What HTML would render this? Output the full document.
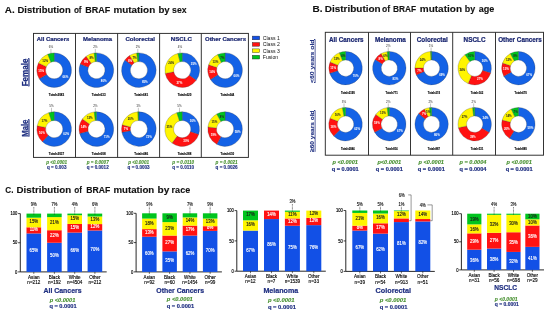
<!DOCTYPE html>
<html><head><meta charset="utf-8"><style>html,body{margin:0;padding:0;background:#fff;width:550px;height:314px;overflow:hidden}svg{display:block;will-change:transform}text{font-family:"Liberation Sans",sans-serif}</style></head>
<body><svg width="550" height="314" viewBox="0 0 550 314" font-family="Liberation Sans, sans-serif"><rect width="550" height="314" fill="#fff"/>
<text x="4.80" y="12.70" font-size="9.9" fill="#111" font-weight="bold" textLength="9.90" lengthAdjust="spacingAndGlyphs" stroke="#111" stroke-width="0.12">A.</text>
<text x="17.50" y="12.70" font-size="9.9" fill="#111" font-weight="bold" textLength="53.20" lengthAdjust="spacingAndGlyphs" stroke="#111" stroke-width="0.12">Distribution</text>
<text x="73.90" y="12.70" font-size="9.9" fill="#111" font-weight="bold" textLength="7.70" lengthAdjust="spacingAndGlyphs" stroke="#111" stroke-width="0.12">of</text>
<text x="85.30" y="12.70" font-size="9.9" fill="#111" font-weight="bold" textLength="24.90" lengthAdjust="spacingAndGlyphs" stroke="#111" stroke-width="0.12">BRAF</text>
<text x="113.40" y="12.70" font-size="9.9" fill="#111" font-weight="bold" textLength="41.80" lengthAdjust="spacingAndGlyphs" stroke="#111" stroke-width="0.12">mutation</text>
<text x="158.40" y="12.70" font-size="9.9" fill="#111" font-weight="bold" textLength="11.30" lengthAdjust="spacingAndGlyphs" stroke="#111" stroke-width="0.12">by</text>
<text x="172.10" y="12.70" font-size="9.9" fill="#111" font-weight="bold" textLength="14.50" lengthAdjust="spacingAndGlyphs" stroke="#111" stroke-width="0.12">sex</text>
<text x="312.50" y="11.60" font-size="9.9" fill="#111" font-weight="bold" textLength="10.00" lengthAdjust="spacingAndGlyphs" stroke="#111" stroke-width="0.12">B.</text>
<text x="324.80" y="11.60" font-size="9.9" fill="#111" font-weight="bold" textLength="55.90" lengthAdjust="spacingAndGlyphs" stroke="#111" stroke-width="0.12">Distribution</text>
<text x="382.10" y="11.60" font-size="9.9" fill="#111" font-weight="bold" textLength="8.10" lengthAdjust="spacingAndGlyphs" stroke="#111" stroke-width="0.12">of</text>
<text x="393.00" y="11.60" font-size="9.9" fill="#111" font-weight="bold" textLength="23.10" lengthAdjust="spacingAndGlyphs" stroke="#111" stroke-width="0.12">BRAF</text>
<text x="419.80" y="11.60" font-size="9.9" fill="#111" font-weight="bold" textLength="42.20" lengthAdjust="spacingAndGlyphs" stroke="#111" stroke-width="0.12">mutation</text>
<text x="464.80" y="11.60" font-size="9.9" fill="#111" font-weight="bold" textLength="10.40" lengthAdjust="spacingAndGlyphs" stroke="#111" stroke-width="0.12">by</text>
<text x="478.70" y="11.60" font-size="9.9" fill="#111" font-weight="bold" textLength="15.60" lengthAdjust="spacingAndGlyphs" stroke="#111" stroke-width="0.12">age</text>
<text x="5.30" y="193.10" font-size="9.9" fill="#111" font-weight="bold" textLength="8.10" lengthAdjust="spacingAndGlyphs" stroke="#111" stroke-width="0.12">C.</text>
<text x="16.60" y="193.10" font-size="9.9" fill="#111" font-weight="bold" textLength="54.50" lengthAdjust="spacingAndGlyphs" stroke="#111" stroke-width="0.12">Distribution</text>
<text x="74.30" y="193.10" font-size="9.9" fill="#111" font-weight="bold" textLength="7.70" lengthAdjust="spacingAndGlyphs" stroke="#111" stroke-width="0.12">of</text>
<text x="86.20" y="193.10" font-size="9.9" fill="#111" font-weight="bold" textLength="24.00" lengthAdjust="spacingAndGlyphs" stroke="#111" stroke-width="0.12">BRAF</text>
<text x="113.40" y="193.10" font-size="9.9" fill="#111" font-weight="bold" textLength="40.90" lengthAdjust="spacingAndGlyphs" stroke="#111" stroke-width="0.12">mutation</text>
<text x="157.50" y="193.10" font-size="9.9" fill="#111" font-weight="bold" textLength="11.80" lengthAdjust="spacingAndGlyphs" stroke="#111" stroke-width="0.12">by</text>
<text x="171.60" y="193.10" font-size="9.9" fill="#111" font-weight="bold" textLength="18.60" lengthAdjust="spacingAndGlyphs" stroke="#111" stroke-width="0.12">race</text>
<rect x="33.5" y="33.4" width="214.9" height="124.0" fill="none" stroke="#2a2a2a" stroke-width="0.95"/>
<line x1="75.5" y1="33.4" x2="75.5" y2="157.4" stroke="#2a2a2a" stroke-width="0.95"/>
<line x1="117.6" y1="33.4" x2="117.6" y2="157.4" stroke="#2a2a2a" stroke-width="0.95"/>
<line x1="159.6" y1="33.4" x2="159.6" y2="157.4" stroke="#2a2a2a" stroke-width="0.95"/>
<line x1="201.3" y1="33.4" x2="201.3" y2="157.4" stroke="#2a2a2a" stroke-width="0.95"/>
<text x="36.80" y="41.30" font-size="6.1" fill="#1a2670" font-weight="bold" textLength="32.40" lengthAdjust="spacingAndGlyphs" stroke="#1a2670" stroke-width="0.22">All Cancers</text>
<text x="83.10" y="41.30" font-size="6.1" fill="#1a2670" font-weight="bold" textLength="29.10" lengthAdjust="spacingAndGlyphs" stroke="#1a2670" stroke-width="0.22">Melanoma</text>
<text x="125.50" y="41.30" font-size="6.1" fill="#1a2670" font-weight="bold" textLength="29.40" lengthAdjust="spacingAndGlyphs" stroke="#1a2670" stroke-width="0.22">Colorectal</text>
<text x="170.80" y="41.30" font-size="6.1" fill="#1a2670" font-weight="bold" textLength="21.00" lengthAdjust="spacingAndGlyphs" stroke="#1a2670" stroke-width="0.22">NSCLC</text>
<text x="205.00" y="41.30" font-size="6.1" fill="#1a2670" font-weight="bold" textLength="41.00" lengthAdjust="spacingAndGlyphs" stroke="#1a2670" stroke-width="0.22">Other Cancers</text>
<rect x="325.3" y="32.3" width="218.2" height="122.89999999999999" fill="none" stroke="#2a2a2a" stroke-width="0.95"/>
<line x1="368.5" y1="32.3" x2="368.5" y2="155.2" stroke="#2a2a2a" stroke-width="0.95"/>
<line x1="410.5" y1="32.3" x2="410.5" y2="155.2" stroke="#2a2a2a" stroke-width="0.95"/>
<line x1="452.7" y1="32.3" x2="452.7" y2="155.2" stroke="#2a2a2a" stroke-width="0.95"/>
<line x1="495.5" y1="32.3" x2="495.5" y2="155.2" stroke="#2a2a2a" stroke-width="0.95"/>
<text x="329.10" y="41.80" font-size="6.3" fill="#1a2670" font-weight="bold" textLength="34.50" lengthAdjust="spacingAndGlyphs" stroke="#1a2670" stroke-width="0.22">All Cancers</text>
<text x="374.90" y="41.80" font-size="6.3" fill="#1a2670" font-weight="bold" textLength="30.90" lengthAdjust="spacingAndGlyphs" stroke="#1a2670" stroke-width="0.22">Melanoma</text>
<text x="416.70" y="41.80" font-size="6.3" fill="#1a2670" font-weight="bold" textLength="31.10" lengthAdjust="spacingAndGlyphs" stroke="#1a2670" stroke-width="0.22">Colorectal</text>
<text x="463.60" y="41.80" font-size="6.3" fill="#1a2670" font-weight="bold" textLength="21.90" lengthAdjust="spacingAndGlyphs" stroke="#1a2670" stroke-width="0.22">NSCLC</text>
<text x="498.20" y="41.80" font-size="6.3" fill="#1a2670" font-weight="bold" textLength="43.60" lengthAdjust="spacingAndGlyphs" stroke="#1a2670" stroke-width="0.22">Other Cancers</text>
<g transform="translate(27.5,72.5) rotate(-90)">
<text x="0.00" y="0.00" font-size="8.8" fill="#1f2f80" font-weight="bold" text-anchor="middle" textLength="27.70" lengthAdjust="spacingAndGlyphs" text-decoration="underline" stroke="#1f2f80" stroke-width="0.25">Female</text>
</g>
<g transform="translate(27.5,128.2) rotate(-90)">
<text x="0.00" y="0.00" font-size="8.8" fill="#1f2f80" font-weight="bold" text-anchor="middle" textLength="17.20" lengthAdjust="spacingAndGlyphs" text-decoration="underline" stroke="#1f2f80" stroke-width="0.25">Male</text>
</g>
<g transform="translate(313.8,61.2) rotate(-90)">
<text x="0.00" y="0.00" font-size="6" fill="#1f2f80" font-weight="bold" text-anchor="middle" textLength="43.50" lengthAdjust="spacingAndGlyphs" text-decoration="underline" stroke="#1f2f80" stroke-width="0.1">&lt;60 years old</text>
</g>
<g transform="translate(313.8,131.2) rotate(-90)">
<text x="0.00" y="0.00" font-size="6" fill="#1f2f80" font-weight="bold" text-anchor="middle" textLength="41.50" lengthAdjust="spacingAndGlyphs" text-decoration="underline" stroke="#1f2f80" stroke-width="0.1">≥60 years old</text>
</g>
<rect x="252.3" y="36.10" width="7.4" height="3.7" fill="#1250e6" stroke="#222" stroke-width="0.4"/>
<text x="262.80" y="39.70" font-size="5.1" fill="#111">Class 1</text>
<rect x="252.3" y="42.50" width="7.4" height="3.7" fill="#ff1212" stroke="#222" stroke-width="0.4"/>
<text x="262.80" y="46.10" font-size="5.1" fill="#111">Class 2</text>
<rect x="252.3" y="48.90" width="7.4" height="3.7" fill="#fff500" stroke="#222" stroke-width="0.4"/>
<text x="262.80" y="52.50" font-size="5.1" fill="#111">Class 3</text>
<rect x="252.3" y="55.30" width="7.4" height="3.7" fill="#00c41e" stroke="#222" stroke-width="0.4"/>
<text x="262.80" y="58.90" font-size="5.1" fill="#111">Fusion</text>
<path d="M54.20,52.90A17.3,17.3 0 1 1 39.22,78.85L46.75,74.50A8.6,8.6 0 1 0 54.20,61.60Z" fill="#1462e6" stroke="#333" stroke-width="0.25"/>
<path d="M39.22,78.85A17.3,17.3 0 0 1 38.46,63.01L46.38,66.63A8.6,8.6 0 0 0 46.75,74.50Z" fill="#ff1212" stroke="#333" stroke-width="0.25"/>
<path d="M38.46,63.01A17.3,17.3 0 0 1 47.77,54.14L51.00,62.22A8.6,8.6 0 0 0 46.38,66.63Z" fill="#fff500" stroke="#333" stroke-width="0.25"/>
<path d="M47.77,54.14A17.3,17.3 0 0 1 54.20,52.90L54.20,61.60A8.6,8.6 0 0 0 51.00,62.22Z" fill="#00c41e" stroke="#333" stroke-width="0.25"/>
<text x="65.42" y="77.67" font-size="2.9" fill="#fff" font-weight="bold" text-anchor="middle">66%</text>
<text x="41.26" y="71.82" font-size="2.9" fill="#fff" font-weight="bold" text-anchor="middle">15%</text>
<text x="45.26" y="61.83" font-size="2.9" fill="#222" font-weight="bold" text-anchor="middle">12%</text>
<line x1="50.93" y1="53.90" x2="50.93" y2="48.90" stroke="#555" stroke-width="0.35"/>
<text x="50.93" y="48.30" font-size="3.0" fill="#222" text-anchor="middle">6%</text>
<text x="56.50" y="96.10" font-size="3.0" fill="#000" font-weight="bold" text-anchor="middle" stroke="#000" stroke-width="0.1">Total=2083</text>
<path d="M96.40,52.90A17.3,17.3 0 1 1 80.24,64.03L88.37,67.13A8.6,8.6 0 1 0 96.40,61.60Z" fill="#1462e6" stroke="#333" stroke-width="0.25"/>
<path d="M80.24,64.03A17.3,17.3 0 0 1 86.14,56.27L91.30,63.27A8.6,8.6 0 0 0 88.37,67.13Z" fill="#ff1212" stroke="#333" stroke-width="0.25"/>
<path d="M86.14,56.27A17.3,17.3 0 0 1 94.21,53.04L95.31,61.67A8.6,8.6 0 0 0 91.30,63.27Z" fill="#fff500" stroke="#333" stroke-width="0.25"/>
<path d="M94.21,53.04A17.3,17.3 0 0 1 96.40,52.90L96.40,61.60A8.6,8.6 0 0 0 95.31,61.67Z" fill="#00c41e" stroke="#333" stroke-width="0.25"/>
<text x="103.74" y="81.87" font-size="2.9" fill="#fff" font-weight="bold" text-anchor="middle">80%</text>
<text x="86.09" y="63.36" font-size="2.9" fill="#fff" font-weight="bold" text-anchor="middle">9%</text>
<text x="91.59" y="59.18" font-size="2.9" fill="#222" font-weight="bold" text-anchor="middle">8%</text>
<line x1="95.30" y1="53.90" x2="95.30" y2="48.90" stroke="#555" stroke-width="0.35"/>
<text x="95.30" y="48.30" font-size="3.0" fill="#222" text-anchor="middle">2%</text>
<text x="98.70" y="96.10" font-size="3.0" fill="#000" font-weight="bold" text-anchor="middle" stroke="#000" stroke-width="0.1">Total=633</text>
<path d="M138.90,52.90A17.3,17.3 0 1 1 124.90,60.03L131.94,65.15A8.6,8.6 0 1 0 138.90,61.60Z" fill="#1462e6" stroke="#333" stroke-width="0.25"/>
<path d="M124.90,60.03A17.3,17.3 0 0 1 129.63,55.59L134.29,62.94A8.6,8.6 0 0 0 131.94,65.15Z" fill="#ff1212" stroke="#333" stroke-width="0.25"/>
<path d="M129.63,55.59A17.3,17.3 0 0 1 136.73,53.04L137.82,61.67A8.6,8.6 0 0 0 134.29,62.94Z" fill="#fff500" stroke="#333" stroke-width="0.25"/>
<path d="M136.73,53.04A17.3,17.3 0 0 1 138.90,52.90L138.90,61.60A8.6,8.6 0 0 0 137.82,61.67Z" fill="#00c41e" stroke="#333" stroke-width="0.25"/>
<text x="144.78" y="82.74" font-size="2.9" fill="#fff" font-weight="bold" text-anchor="middle">85%</text>
<text x="130.04" y="61.76" font-size="2.9" fill="#fff" font-weight="bold" text-anchor="middle">6%</text>
<text x="134.51" y="59.02" font-size="2.9" fill="#222" font-weight="bold" text-anchor="middle">7%</text>
<line x1="137.81" y1="53.90" x2="137.81" y2="48.90" stroke="#555" stroke-width="0.35"/>
<text x="137.81" y="48.30" font-size="3.0" fill="#222" text-anchor="middle">2%</text>
<text x="141.20" y="96.10" font-size="3.0" fill="#000" font-weight="bold" text-anchor="middle" stroke="#000" stroke-width="0.1">Total=681</text>
<path d="M182.20,52.90A17.3,17.3 0 0 1 196.20,80.37L189.16,75.25A8.6,8.6 0 0 0 182.20,61.60Z" fill="#1462e6" stroke="#333" stroke-width="0.25"/>
<path d="M196.20,80.37A17.3,17.3 0 0 1 165.21,73.44L173.75,71.81A8.6,8.6 0 0 0 189.16,75.25Z" fill="#ff1212" stroke="#333" stroke-width="0.25"/>
<path d="M165.21,73.44A17.3,17.3 0 0 1 177.90,53.44L180.06,61.87A8.6,8.6 0 0 0 173.75,71.81Z" fill="#fff500" stroke="#333" stroke-width="0.25"/>
<path d="M177.90,53.44A17.3,17.3 0 0 1 182.20,52.90L182.20,61.60A8.6,8.6 0 0 0 180.06,61.87Z" fill="#00c41e" stroke="#333" stroke-width="0.25"/>
<text x="193.74" y="65.32" font-size="2.9" fill="#fff" font-weight="bold" text-anchor="middle">35%</text>
<text x="179.38" y="83.84" font-size="2.9" fill="#fff" font-weight="bold" text-anchor="middle">37%</text>
<text x="171.27" y="64.26" font-size="2.9" fill="#222" font-weight="bold" text-anchor="middle">24%</text>
<line x1="180.03" y1="53.90" x2="180.03" y2="48.90" stroke="#555" stroke-width="0.35"/>
<text x="180.03" y="48.30" font-size="3.0" fill="#222" text-anchor="middle">4%</text>
<text x="184.50" y="96.10" font-size="3.0" fill="#000" font-weight="bold" text-anchor="middle" stroke="#000" stroke-width="0.1">Total=420</text>
<path d="M225.10,52.90A17.3,17.3 0 1 1 210.49,79.47L217.84,74.81A8.6,8.6 0 1 0 225.10,61.60Z" fill="#1462e6" stroke="#333" stroke-width="0.25"/>
<path d="M210.49,79.47A17.3,17.3 0 0 1 208.65,64.85L216.92,67.54A8.6,8.6 0 0 0 217.84,74.81Z" fill="#ff1212" stroke="#333" stroke-width="0.25"/>
<path d="M208.65,64.85A17.3,17.3 0 0 1 217.73,54.55L221.44,62.42A8.6,8.6 0 0 0 216.92,67.54Z" fill="#fff500" stroke="#333" stroke-width="0.25"/>
<path d="M217.73,54.55A17.3,17.3 0 0 1 225.10,52.90L225.10,61.60A8.6,8.6 0 0 0 221.44,62.42Z" fill="#00c41e" stroke="#333" stroke-width="0.25"/>
<text x="236.45" y="77.44" font-size="2.9" fill="#fff" font-weight="bold" text-anchor="middle">66%</text>
<text x="212.25" y="72.82" font-size="2.9" fill="#fff" font-weight="bold" text-anchor="middle">14%</text>
<text x="215.39" y="62.64" font-size="2.9" fill="#222" font-weight="bold" text-anchor="middle">13%</text>
<text x="222.28" y="58.56" font-size="2.9" fill="#222" font-weight="bold" text-anchor="middle">7%</text>
<text x="227.40" y="96.10" font-size="3.0" fill="#000" font-weight="bold" text-anchor="middle" stroke="#000" stroke-width="0.1">Total=444</text>
<path d="M54.20,111.80A17.3,17.3 0 1 1 42.36,141.71L48.31,135.37A8.6,8.6 0 1 0 54.20,120.50Z" fill="#1462e6" stroke="#333" stroke-width="0.25"/>
<path d="M42.36,141.71A17.3,17.3 0 0 1 37.21,125.86L45.75,127.49A8.6,8.6 0 0 0 48.31,135.37Z" fill="#ff1212" stroke="#333" stroke-width="0.25"/>
<path d="M37.21,125.86A17.3,17.3 0 0 1 48.85,112.65L51.54,120.92A8.6,8.6 0 0 0 45.75,127.49Z" fill="#fff500" stroke="#333" stroke-width="0.25"/>
<path d="M48.85,112.65A17.3,17.3 0 0 1 54.20,111.80L54.20,120.50A8.6,8.6 0 0 0 51.54,120.92Z" fill="#00c41e" stroke="#333" stroke-width="0.25"/>
<text x="66.24" y="134.87" font-size="2.9" fill="#fff" font-weight="bold" text-anchor="middle">62%</text>
<text x="41.88" y="134.10" font-size="2.9" fill="#fff" font-weight="bold" text-anchor="middle">16%</text>
<text x="44.49" y="121.54" font-size="2.9" fill="#222" font-weight="bold" text-anchor="middle">17%</text>
<line x1="51.49" y1="112.80" x2="51.49" y2="107.80" stroke="#555" stroke-width="0.35"/>
<text x="51.49" y="107.20" font-size="3.0" fill="#222" text-anchor="middle">5%</text>
<text x="56.50" y="155.00" font-size="3.0" fill="#000" font-weight="bold" text-anchor="middle" stroke="#000" stroke-width="0.1">Total=2037</text>
<path d="M96.40,111.80A17.3,17.3 0 1 1 79.64,133.40L88.07,131.24A8.6,8.6 0 1 0 96.40,120.50Z" fill="#1462e6" stroke="#333" stroke-width="0.25"/>
<path d="M79.64,133.40A17.3,17.3 0 0 1 82.40,118.93L89.44,124.05A8.6,8.6 0 0 0 88.07,131.24Z" fill="#ff1212" stroke="#333" stroke-width="0.25"/>
<path d="M82.40,118.93A17.3,17.3 0 0 1 94.23,111.94L95.32,120.57A8.6,8.6 0 0 0 89.44,124.05Z" fill="#fff500" stroke="#333" stroke-width="0.25"/>
<path d="M94.23,111.94A17.3,17.3 0 0 1 96.40,111.80L96.40,120.50A8.6,8.6 0 0 0 95.32,120.57Z" fill="#00c41e" stroke="#333" stroke-width="0.25"/>
<text x="106.63" y="138.04" font-size="2.9" fill="#fff" font-weight="bold" text-anchor="middle">71%</text>
<text x="83.68" y="127.67" font-size="2.9" fill="#fff" font-weight="bold" text-anchor="middle">14%</text>
<text x="89.81" y="118.95" font-size="2.9" fill="#222" font-weight="bold" text-anchor="middle">13%</text>
<line x1="95.31" y1="112.80" x2="95.31" y2="107.80" stroke="#555" stroke-width="0.35"/>
<text x="95.31" y="107.20" font-size="3.0" fill="#222" text-anchor="middle">2%</text>
<text x="98.70" y="155.00" font-size="3.0" fill="#000" font-weight="bold" text-anchor="middle" stroke="#000" stroke-width="0.1">Total=608</text>
<path d="M138.90,111.80A17.3,17.3 0 1 1 121.91,132.34L130.45,130.71A8.6,8.6 0 1 0 138.90,120.50Z" fill="#1462e6" stroke="#333" stroke-width="0.25"/>
<path d="M121.91,132.34A17.3,17.3 0 0 1 122.14,124.80L130.57,126.96A8.6,8.6 0 0 0 130.45,130.71Z" fill="#ff1212" stroke="#333" stroke-width="0.25"/>
<path d="M122.14,124.80A17.3,17.3 0 0 1 137.81,111.83L138.36,120.52A8.6,8.6 0 0 0 130.57,126.96Z" fill="#fff500" stroke="#333" stroke-width="0.25"/>
<path d="M137.81,111.83A17.3,17.3 0 0 1 138.90,111.80L138.90,120.50A8.6,8.6 0 0 0 138.36,120.52Z" fill="#00c41e" stroke="#333" stroke-width="0.25"/>
<text x="148.88" y="138.35" font-size="2.9" fill="#fff" font-weight="bold" text-anchor="middle">72%</text>
<text x="125.96" y="129.69" font-size="2.9" fill="#fff" font-weight="bold" text-anchor="middle">7%</text>
<text x="130.65" y="120.12" font-size="2.9" fill="#222" font-weight="bold" text-anchor="middle">20%</text>
<line x1="138.36" y1="112.80" x2="138.36" y2="107.80" stroke="#555" stroke-width="0.35"/>
<text x="138.36" y="107.20" font-size="3.0" fill="#222" text-anchor="middle">1%</text>
<text x="141.20" y="155.00" font-size="3.0" fill="#000" font-weight="bold" text-anchor="middle" stroke="#000" stroke-width="0.1">Total=486</text>
<path d="M182.20,111.80A17.3,17.3 0 0 1 198.65,134.45L190.38,131.76A8.6,8.6 0 0 0 182.20,120.50Z" fill="#1462e6" stroke="#333" stroke-width="0.25"/>
<path d="M198.65,134.45A17.3,17.3 0 0 1 172.03,143.10L177.15,136.06A8.6,8.6 0 0 0 190.38,131.76Z" fill="#ff1212" stroke="#333" stroke-width="0.25"/>
<path d="M172.03,143.10A17.3,17.3 0 0 1 176.85,112.65L179.54,120.92A8.6,8.6 0 0 0 177.15,136.06Z" fill="#fff500" stroke="#333" stroke-width="0.25"/>
<path d="M176.85,112.65A17.3,17.3 0 0 1 182.20,111.80L182.20,120.50A8.6,8.6 0 0 0 179.54,120.92Z" fill="#00c41e" stroke="#333" stroke-width="0.25"/>
<text x="192.68" y="122.49" font-size="2.9" fill="#fff" font-weight="bold" text-anchor="middle">30%</text>
<text x="186.20" y="142.42" font-size="2.9" fill="#fff" font-weight="bold" text-anchor="middle">30%</text>
<text x="169.41" y="128.07" font-size="2.9" fill="#222" font-weight="bold" text-anchor="middle">35%</text>
<line x1="179.49" y1="112.80" x2="179.49" y2="107.80" stroke="#555" stroke-width="0.35"/>
<text x="179.49" y="107.20" font-size="3.0" fill="#222" text-anchor="middle">5%</text>
<text x="184.50" y="155.00" font-size="3.0" fill="#000" font-weight="bold" text-anchor="middle" stroke="#000" stroke-width="0.1">Total=288</text>
<path d="M225.10,111.80A17.3,17.3 0 1 1 216.77,144.26L220.96,136.64A8.6,8.6 0 1 0 225.10,120.50Z" fill="#1462e6" stroke="#333" stroke-width="0.25"/>
<path d="M216.77,144.26A17.3,17.3 0 0 1 207.94,126.93L216.57,128.02A8.6,8.6 0 0 0 220.96,136.64Z" fill="#ff1212" stroke="#333" stroke-width="0.25"/>
<path d="M207.94,126.93A17.3,17.3 0 0 1 216.77,113.94L220.96,121.56A8.6,8.6 0 0 0 216.57,128.02Z" fill="#fff500" stroke="#333" stroke-width="0.25"/>
<path d="M216.77,113.94A17.3,17.3 0 0 1 225.10,111.80L225.10,120.50A8.6,8.6 0 0 0 220.96,121.56Z" fill="#00c41e" stroke="#333" stroke-width="0.25"/>
<text x="237.64" y="133.32" font-size="2.9" fill="#fff" font-weight="bold" text-anchor="middle">58%</text>
<text x="213.56" y="135.98" font-size="2.9" fill="#fff" font-weight="bold" text-anchor="middle">19%</text>
<text x="214.39" y="122.82" font-size="2.9" fill="#222" font-weight="bold" text-anchor="middle">15%</text>
<text x="221.88" y="117.56" font-size="2.9" fill="#222" font-weight="bold" text-anchor="middle">8%</text>
<text x="227.40" y="155.00" font-size="3.0" fill="#000" font-weight="bold" text-anchor="middle" stroke="#000" stroke-width="0.1">Total=610</text>
<path d="M345.60,51.50A16.7,16.7 0 1 1 329.72,73.36L337.80,70.73A8.2,8.2 0 1 0 345.60,60.00Z" fill="#1462e6" stroke="#333" stroke-width="0.25"/>
<path d="M329.72,73.36A16.7,16.7 0 0 1 330.07,62.05L337.98,65.18A8.2,8.2 0 0 0 337.80,70.73Z" fill="#ff1212" stroke="#333" stroke-width="0.25"/>
<path d="M330.07,62.05A16.7,16.7 0 0 1 339.45,52.67L342.58,60.58A8.2,8.2 0 0 0 337.98,65.18Z" fill="#fff500" stroke="#333" stroke-width="0.25"/>
<path d="M339.45,52.67A16.7,16.7 0 0 1 345.60,51.50L345.60,60.00A8.2,8.2 0 0 0 342.58,60.58Z" fill="#00c41e" stroke="#333" stroke-width="0.25"/>
<text x="355.67" y="76.52" font-size="2.9" fill="#fff" font-weight="bold" text-anchor="middle">70%</text>
<text x="333.16" y="68.81" font-size="2.9" fill="#fff" font-weight="bold" text-anchor="middle">11%</text>
<text x="336.80" y="60.40" font-size="2.9" fill="#222" font-weight="bold" text-anchor="middle">13%</text>
<text x="343.27" y="56.97" font-size="2.9" fill="#222" font-weight="bold" text-anchor="middle">6%</text>
<text x="347.90" y="93.90" font-size="2.7" fill="#000" font-weight="bold" text-anchor="middle" stroke="#000" stroke-width="0.1">Total=2190</text>
<path d="M389.30,51.50A16.7,16.7 0 1 1 375.11,59.40L382.33,63.88A8.2,8.2 0 1 0 389.30,60.00Z" fill="#1462e6" stroke="#333" stroke-width="0.25"/>
<path d="M375.11,59.40A16.7,16.7 0 0 1 381.18,53.61L385.31,61.03A8.2,8.2 0 0 0 382.33,63.88Z" fill="#ff1212" stroke="#333" stroke-width="0.25"/>
<path d="M381.18,53.61A16.7,16.7 0 0 1 387.19,51.63L388.26,60.07A8.2,8.2 0 0 0 385.31,61.03Z" fill="#fff500" stroke="#333" stroke-width="0.25"/>
<path d="M387.19,51.63A16.7,16.7 0 0 1 389.30,51.50L389.30,60.00A8.2,8.2 0 0 0 388.26,60.07Z" fill="#00c41e" stroke="#333" stroke-width="0.25"/>
<text x="395.35" y="80.08" font-size="2.9" fill="#fff" font-weight="bold" text-anchor="middle">83%</text>
<text x="380.71" y="60.19" font-size="2.9" fill="#fff" font-weight="bold" text-anchor="middle">8%</text>
<text x="385.42" y="57.37" font-size="2.9" fill="#222" font-weight="bold" text-anchor="middle">6%</text>
<line x1="388.24" y1="52.50" x2="388.24" y2="47.50" stroke="#555" stroke-width="0.35"/>
<text x="388.24" y="46.90" font-size="3.0" fill="#222" text-anchor="middle">2%</text>
<text x="391.60" y="93.90" font-size="2.7" fill="#000" font-weight="bold" text-anchor="middle" stroke="#000" stroke-width="0.1">Total=771</text>
<path d="M431.60,51.50A16.7,16.7 0 1 1 416.35,75.01L424.11,71.54A8.2,8.2 0 1 0 431.60,60.00Z" fill="#1462e6" stroke="#333" stroke-width="0.25"/>
<path d="M416.35,75.01A16.7,16.7 0 0 1 414.90,67.94L423.40,68.07A8.2,8.2 0 0 0 424.11,71.54Z" fill="#ff1212" stroke="#333" stroke-width="0.25"/>
<path d="M414.90,67.94A16.7,16.7 0 0 1 430.56,51.53L431.09,60.02A8.2,8.2 0 0 0 423.40,68.07Z" fill="#fff500" stroke="#333" stroke-width="0.25"/>
<path d="M430.56,51.53A16.7,16.7 0 0 1 431.60,51.50L431.60,60.00A8.2,8.2 0 0 0 431.09,60.02Z" fill="#00c41e" stroke="#333" stroke-width="0.25"/>
<text x="442.04" y="75.98" font-size="2.9" fill="#fff" font-weight="bold" text-anchor="middle">69%</text>
<text x="419.40" y="71.70" font-size="2.9" fill="#fff" font-weight="bold" text-anchor="middle">7%</text>
<text x="422.59" y="60.60" font-size="2.9" fill="#222" font-weight="bold" text-anchor="middle">24%</text>
<line x1="431.08" y1="52.50" x2="431.08" y2="47.50" stroke="#555" stroke-width="0.35"/>
<text x="431.08" y="46.90" font-size="3.0" fill="#222" text-anchor="middle">1%</text>
<text x="433.90" y="93.90" font-size="2.7" fill="#000" font-weight="bold" text-anchor="middle" stroke="#000" stroke-width="0.1">Total=274</text>
<path d="M474.70,51.50A16.7,16.7 0 0 1 490.68,73.06L482.54,70.59A8.2,8.2 0 0 0 474.70,60.00Z" fill="#1462e6" stroke="#333" stroke-width="0.25"/>
<path d="M490.68,73.06A16.7,16.7 0 0 1 468.13,83.55L471.47,75.74A8.2,8.2 0 0 0 482.54,70.59Z" fill="#ff1212" stroke="#333" stroke-width="0.25"/>
<path d="M468.13,83.55A16.7,16.7 0 0 1 464.97,54.63L469.92,61.54A8.2,8.2 0 0 0 471.47,75.74Z" fill="#fff500" stroke="#333" stroke-width="0.25"/>
<path d="M464.97,54.63A16.7,16.7 0 0 1 474.70,51.50L474.70,60.00A8.2,8.2 0 0 0 469.92,61.54Z" fill="#00c41e" stroke="#333" stroke-width="0.25"/>
<text x="484.70" y="61.79" font-size="2.9" fill="#fff" font-weight="bold" text-anchor="middle">30%</text>
<text x="479.95" y="80.49" font-size="2.9" fill="#fff" font-weight="bold" text-anchor="middle">27%</text>
<text x="462.32" y="70.55" font-size="2.9" fill="#222" font-weight="bold" text-anchor="middle">34%</text>
<text x="470.89" y="57.35" font-size="2.9" fill="#222" font-weight="bold" text-anchor="middle">10%</text>
<text x="477.00" y="93.90" font-size="2.7" fill="#000" font-weight="bold" text-anchor="middle" stroke="#000" stroke-width="0.1">Total=162</text>
<path d="M518.40,51.50A16.7,16.7 0 1 1 503.77,76.25L511.21,72.15A8.2,8.2 0 1 0 518.40,60.00Z" fill="#1462e6" stroke="#333" stroke-width="0.25"/>
<path d="M503.77,76.25A16.7,16.7 0 0 1 502.52,63.04L510.60,65.67A8.2,8.2 0 0 0 511.21,72.15Z" fill="#ff1212" stroke="#333" stroke-width="0.25"/>
<path d="M502.52,63.04A16.7,16.7 0 0 1 510.35,53.57L514.45,61.01A8.2,8.2 0 0 0 510.60,65.67Z" fill="#fff500" stroke="#333" stroke-width="0.25"/>
<path d="M510.35,53.57A16.7,16.7 0 0 1 518.40,51.50L518.40,60.00A8.2,8.2 0 0 0 514.45,61.01Z" fill="#00c41e" stroke="#333" stroke-width="0.25"/>
<text x="529.12" y="75.54" font-size="2.9" fill="#fff" font-weight="bold" text-anchor="middle">67%</text>
<text x="506.01" y="70.37" font-size="2.9" fill="#fff" font-weight="bold" text-anchor="middle">13%</text>
<text x="508.81" y="61.26" font-size="2.9" fill="#222" font-weight="bold" text-anchor="middle">12%</text>
<text x="515.30" y="57.14" font-size="2.9" fill="#222" font-weight="bold" text-anchor="middle">8%</text>
<text x="520.70" y="93.90" font-size="2.7" fill="#000" font-weight="bold" text-anchor="middle" stroke="#000" stroke-width="0.1">Total=670</text>
<path d="M345.60,107.50A16.7,16.7 0 1 1 333.70,135.91L339.76,129.95A8.2,8.2 0 1 0 345.60,116.00Z" fill="#1462e6" stroke="#333" stroke-width="0.25"/>
<path d="M333.70,135.91A16.7,16.7 0 0 1 330.00,118.24L337.94,121.27A8.2,8.2 0 0 0 339.76,129.95Z" fill="#ff1212" stroke="#333" stroke-width="0.25"/>
<path d="M330.00,118.24A16.7,16.7 0 0 1 342.44,107.80L344.05,116.15A8.2,8.2 0 0 0 337.94,121.27Z" fill="#fff500" stroke="#333" stroke-width="0.25"/>
<path d="M342.44,107.80A16.7,16.7 0 0 1 345.60,107.50L345.60,116.00A8.2,8.2 0 0 0 344.05,116.15Z" fill="#00c41e" stroke="#333" stroke-width="0.25"/>
<text x="357.08" y="130.01" font-size="2.9" fill="#fff" font-weight="bold" text-anchor="middle">62%</text>
<text x="333.41" y="127.75" font-size="2.9" fill="#fff" font-weight="bold" text-anchor="middle">18%</text>
<text x="337.60" y="115.66" font-size="2.9" fill="#222" font-weight="bold" text-anchor="middle">16%</text>
<line x1="344.01" y1="108.50" x2="344.01" y2="103.50" stroke="#555" stroke-width="0.35"/>
<text x="344.01" y="102.90" font-size="3.0" fill="#222" text-anchor="middle">3%</text>
<text x="347.90" y="149.90" font-size="2.7" fill="#000" font-weight="bold" text-anchor="middle" stroke="#000" stroke-width="0.1">Total=2846</text>
<path d="M389.30,107.50A16.7,16.7 0 1 1 374.67,132.25L382.11,128.15A8.2,8.2 0 1 0 389.30,116.00Z" fill="#1462e6" stroke="#333" stroke-width="0.25"/>
<path d="M374.67,132.25A16.7,16.7 0 0 1 375.79,114.38L382.67,119.38A8.2,8.2 0 0 0 382.11,128.15Z" fill="#ff1212" stroke="#333" stroke-width="0.25"/>
<path d="M375.79,114.38A16.7,16.7 0 0 1 387.21,107.63L388.27,116.06A8.2,8.2 0 0 0 382.67,119.38Z" fill="#fff500" stroke="#333" stroke-width="0.25"/>
<path d="M387.21,107.63A16.7,16.7 0 0 1 389.30,107.50L389.30,116.00A8.2,8.2 0 0 0 388.27,116.06Z" fill="#00c41e" stroke="#333" stroke-width="0.25"/>
<text x="400.02" y="131.54" font-size="2.9" fill="#fff" font-weight="bold" text-anchor="middle">67%</text>
<text x="376.87" y="124.42" font-size="2.9" fill="#fff" font-weight="bold" text-anchor="middle">18%</text>
<text x="382.96" y="114.48" font-size="2.9" fill="#222" font-weight="bold" text-anchor="middle">13%</text>
<line x1="388.25" y1="108.50" x2="388.25" y2="103.50" stroke="#555" stroke-width="0.35"/>
<text x="388.25" y="102.90" font-size="3.0" fill="#222" text-anchor="middle">2%</text>
<text x="391.60" y="149.90" font-size="2.7" fill="#000" font-weight="bold" text-anchor="middle" stroke="#000" stroke-width="0.1">Total=816</text>
<path d="M431.60,107.50A16.7,16.7 0 1 1 418.73,113.56L425.28,118.97A8.2,8.2 0 1 0 431.60,116.00Z" fill="#1462e6" stroke="#333" stroke-width="0.25"/>
<path d="M418.73,113.56A16.7,16.7 0 0 1 424.49,109.09L428.11,116.78A8.2,8.2 0 0 0 425.28,118.97Z" fill="#ff1212" stroke="#333" stroke-width="0.25"/>
<path d="M424.49,109.09A16.7,16.7 0 0 1 429.51,107.63L430.57,116.06A8.2,8.2 0 0 0 428.11,116.78Z" fill="#fff500" stroke="#333" stroke-width="0.25"/>
<path d="M429.51,107.63A16.7,16.7 0 0 1 431.60,107.50L431.60,116.00A8.2,8.2 0 0 0 430.57,116.06Z" fill="#00c41e" stroke="#333" stroke-width="0.25"/>
<text x="436.90" y="136.47" font-size="2.9" fill="#fff" font-weight="bold" text-anchor="middle">86%</text>
<text x="423.97" y="115.36" font-size="2.9" fill="#fff" font-weight="bold" text-anchor="middle">7%</text>
<text x="428.13" y="113.24" font-size="2.9" fill="#222" font-weight="bold" text-anchor="middle">5%</text>
<line x1="430.55" y1="108.50" x2="430.55" y2="103.50" stroke="#555" stroke-width="0.35"/>
<text x="430.55" y="102.90" font-size="3.0" fill="#222" text-anchor="middle">2%</text>
<text x="433.90" y="149.90" font-size="2.7" fill="#000" font-weight="bold" text-anchor="middle" stroke="#000" stroke-width="0.1">Total=887</text>
<path d="M474.70,107.50A16.7,16.7 0 0 1 489.16,132.55L481.80,128.30A8.2,8.2 0 0 0 474.70,116.00Z" fill="#1462e6" stroke="#333" stroke-width="0.25"/>
<path d="M489.16,132.55A16.7,16.7 0 0 1 458.39,127.77L466.69,125.95A8.2,8.2 0 0 0 481.80,128.30Z" fill="#ff1212" stroke="#333" stroke-width="0.25"/>
<path d="M458.39,127.77A16.7,16.7 0 0 1 472.65,107.63L473.69,116.06A8.2,8.2 0 0 0 466.69,125.95Z" fill="#fff500" stroke="#333" stroke-width="0.25"/>
<path d="M472.65,107.63A16.7,16.7 0 0 1 474.70,107.50L474.70,116.00A8.2,8.2 0 0 0 473.69,116.06Z" fill="#00c41e" stroke="#333" stroke-width="0.25"/>
<text x="485.48" y="118.98" font-size="2.9" fill="#fff" font-weight="bold" text-anchor="middle">34%</text>
<text x="472.79" y="137.50" font-size="2.9" fill="#fff" font-weight="bold" text-anchor="middle">39%</text>
<text x="464.54" y="118.01" font-size="2.9" fill="#222" font-weight="bold" text-anchor="middle">27%</text>
<line x1="473.67" y1="108.50" x2="473.67" y2="103.50" stroke="#555" stroke-width="0.35"/>
<text x="473.67" y="102.90" font-size="3.0" fill="#222" text-anchor="middle">2%</text>
<text x="477.00" y="149.90" font-size="2.7" fill="#000" font-weight="bold" text-anchor="middle" stroke="#000" stroke-width="0.1">Total=531</text>
<path d="M518.40,107.50A16.7,16.7 0 1 1 509.45,138.30L514.01,131.12A8.2,8.2 0 1 0 518.40,116.00Z" fill="#1462e6" stroke="#333" stroke-width="0.25"/>
<path d="M509.45,138.30A16.7,16.7 0 0 1 502.22,120.05L510.46,122.16A8.2,8.2 0 0 0 514.01,131.12Z" fill="#ff1212" stroke="#333" stroke-width="0.25"/>
<path d="M502.22,120.05A16.7,16.7 0 0 1 511.29,109.09L514.91,116.78A8.2,8.2 0 0 0 510.46,122.16Z" fill="#fff500" stroke="#333" stroke-width="0.25"/>
<path d="M511.29,109.09A16.7,16.7 0 0 1 518.40,107.50L518.40,116.00A8.2,8.2 0 0 0 514.91,116.78Z" fill="#00c41e" stroke="#333" stroke-width="0.25"/>
<text x="530.36" y="128.67" font-size="2.9" fill="#fff" font-weight="bold" text-anchor="middle">59%</text>
<text x="506.82" y="129.78" font-size="2.9" fill="#fff" font-weight="bold" text-anchor="middle">20%</text>
<text x="508.81" y="117.26" font-size="2.9" fill="#222" font-weight="bold" text-anchor="middle">14%</text>
<text x="515.68" y="113.05" font-size="2.9" fill="#222" font-weight="bold" text-anchor="middle">7%</text>
<text x="520.70" y="149.90" font-size="2.7" fill="#000" font-weight="bold" text-anchor="middle" stroke="#000" stroke-width="0.1">Total=880</text>
<text x="56.70" y="164.40" font-size="4.6" fill="#46902f" font-weight="bold" text-anchor="middle" font-style="italic" stroke="#46902f" stroke-width="0.1">p &lt;0.0001</text>
<text x="56.70" y="169.20" font-size="4.6" fill="#1f2f80" font-weight="bold" text-anchor="middle" stroke="#1f2f80" stroke-width="0.12">q = 0.003</text>
<text x="97.70" y="164.40" font-size="4.6" fill="#46902f" font-weight="bold" text-anchor="middle" font-style="italic" stroke="#46902f" stroke-width="0.1">p = 0.0007</text>
<text x="97.70" y="169.20" font-size="4.6" fill="#1f2f80" font-weight="bold" text-anchor="middle" stroke="#1f2f80" stroke-width="0.12">q = 0.0012</text>
<text x="138.60" y="164.40" font-size="4.6" fill="#46902f" font-weight="bold" text-anchor="middle" font-style="italic" stroke="#46902f" stroke-width="0.1">p &lt;0.0001</text>
<text x="138.60" y="169.20" font-size="4.6" fill="#1f2f80" font-weight="bold" text-anchor="middle" stroke="#1f2f80" stroke-width="0.12">q = 0.0003</text>
<text x="183.20" y="164.40" font-size="4.6" fill="#46902f" font-weight="bold" text-anchor="middle" font-style="italic" stroke="#46902f" stroke-width="0.1">p = 0.0110</text>
<text x="183.20" y="169.20" font-size="4.6" fill="#1f2f80" font-weight="bold" text-anchor="middle" stroke="#1f2f80" stroke-width="0.12">q = 0.0110</text>
<text x="226.60" y="164.40" font-size="4.6" fill="#46902f" font-weight="bold" text-anchor="middle" font-style="italic" stroke="#46902f" stroke-width="0.1">p = 0.0021</text>
<text x="226.60" y="169.20" font-size="4.6" fill="#1f2f80" font-weight="bold" text-anchor="middle" stroke="#1f2f80" stroke-width="0.12">q = 0.0026</text>
<text x="345.20" y="164.20" font-size="5.6" fill="#46902f" font-weight="bold" text-anchor="middle" font-style="italic" stroke="#46902f" stroke-width="0.12">p &lt;0.0001</text>
<text x="345.20" y="170.60" font-size="5.6" fill="#1f2f80" font-weight="bold" text-anchor="middle" stroke="#1f2f80" stroke-width="0.18">q = 0.0001</text>
<text x="389.30" y="164.20" font-size="5.6" fill="#46902f" font-weight="bold" text-anchor="middle" font-style="italic" stroke="#46902f" stroke-width="0.12">p&lt;0.0001</text>
<text x="389.30" y="170.60" font-size="5.6" fill="#1f2f80" font-weight="bold" text-anchor="middle" stroke="#1f2f80" stroke-width="0.18">q = 0.0001</text>
<text x="431.30" y="164.20" font-size="5.6" fill="#46902f" font-weight="bold" text-anchor="middle" font-style="italic" stroke="#46902f" stroke-width="0.12">p &lt;0.0001</text>
<text x="431.30" y="170.60" font-size="5.6" fill="#1f2f80" font-weight="bold" text-anchor="middle" stroke="#1f2f80" stroke-width="0.18">q = 0.0001</text>
<text x="473.00" y="164.20" font-size="5.6" fill="#46902f" font-weight="bold" text-anchor="middle" font-style="italic" stroke="#46902f" stroke-width="0.12">p = 0.0004</text>
<text x="473.00" y="170.60" font-size="5.6" fill="#1f2f80" font-weight="bold" text-anchor="middle" stroke="#1f2f80" stroke-width="0.18">q = 0.0004</text>
<text x="519.10" y="164.20" font-size="5.6" fill="#46902f" font-weight="bold" text-anchor="middle" font-style="italic" stroke="#46902f" stroke-width="0.12">p &lt;0.0001</text>
<text x="519.10" y="170.60" font-size="5.6" fill="#1f2f80" font-weight="bold" text-anchor="middle" stroke="#1f2f80" stroke-width="0.18">q = 0.0001</text>
<line x1="20.3" y1="213.6" x2="20.3" y2="271.9" stroke="#111" stroke-width="0.9"/>
<line x1="20.3" y1="271.9" x2="106.69999999999999" y2="271.9" stroke="#111" stroke-width="0.9"/>
<line x1="18.1" y1="213.60" x2="20.3" y2="213.60" stroke="#111" stroke-width="0.8"/>
<text transform="translate(17.40,215.20) scale(0.9,1)" font-size="4.6" fill="#000" text-anchor="end" stroke="#000" stroke-width="0.15">100</text>
<line x1="18.1" y1="242.75" x2="20.3" y2="242.75" stroke="#111" stroke-width="0.8"/>
<text transform="translate(17.40,244.35) scale(0.9,1)" font-size="4.6" fill="#000" text-anchor="end" stroke="#000" stroke-width="0.15">50</text>
<line x1="18.1" y1="271.90" x2="20.3" y2="271.90" stroke="#111" stroke-width="0.8"/>
<text transform="translate(17.40,273.50) scale(0.9,1)" font-size="4.6" fill="#000" text-anchor="end" stroke="#000" stroke-width="0.15">0</text>
<rect x="26.50" y="233.42" width="14.6" height="38.48" fill="#1250e6"/>
<text transform="translate(33.80,251.96) scale(0.86,1)" font-size="5.0" fill="#fff" text-anchor="middle" stroke="#fff" stroke-width="0.15">65%</text>
<rect x="26.50" y="227.30" width="14.6" height="6.12" fill="#ff1212"/>
<text transform="translate(33.80,231.16) scale(0.86,1)" font-size="5.0" fill="#fff" text-anchor="middle" stroke="#fff" stroke-width="0.15">11%</text>
<rect x="26.50" y="217.68" width="14.6" height="9.62" fill="#fff500"/>
<text transform="translate(33.80,223.29) scale(0.86,1)" font-size="5.0" fill="#1a1a1a" text-anchor="middle" stroke="#1a1a1a" stroke-width="0.15">15%</text>
<rect x="26.50" y="213.60" width="14.6" height="4.08" fill="#00c41e"/>
<line x1="33.80" y1="271.9" x2="33.80" y2="273.9" stroke="#111" stroke-width="0.6"/>
<text x="33.80" y="278.90" font-size="4.6" fill="#000" text-anchor="middle" stroke="#000" stroke-width="0.12">Asian</text>
<text x="33.80" y="284.00" font-size="4.6" fill="#000" text-anchor="middle" stroke="#000" stroke-width="0.12">n=212</text>
<text transform="translate(33.80,206.00) scale(0.9,1)" font-size="4.6" fill="#111" text-anchor="middle" stroke="#111" stroke-width="0.12">9%</text>
<line x1="33.80" y1="207.00" x2="33.80" y2="214.6" stroke="#222" stroke-width="0.6" stroke-dasharray="0.9,0.5"/>
<rect x="47.10" y="242.75" width="14.6" height="29.15" fill="#1250e6"/>
<text transform="translate(54.40,256.62) scale(0.86,1)" font-size="5.0" fill="#fff" text-anchor="middle" stroke="#fff" stroke-width="0.15">50%</text>
<rect x="47.10" y="230.22" width="14.6" height="12.53" fill="#ff1212"/>
<text transform="translate(54.40,237.28) scale(0.86,1)" font-size="5.0" fill="#fff" text-anchor="middle" stroke="#fff" stroke-width="0.15">22%</text>
<rect x="47.10" y="217.10" width="14.6" height="13.12" fill="#fff500"/>
<text transform="translate(54.40,224.46) scale(0.86,1)" font-size="5.0" fill="#1a1a1a" text-anchor="middle" stroke="#1a1a1a" stroke-width="0.15">21%</text>
<rect x="47.10" y="213.60" width="14.6" height="3.50" fill="#00c41e"/>
<line x1="54.40" y1="271.9" x2="54.40" y2="273.9" stroke="#111" stroke-width="0.6"/>
<text x="54.40" y="278.90" font-size="4.6" fill="#000" text-anchor="middle" stroke="#000" stroke-width="0.12">Black</text>
<text x="54.40" y="284.00" font-size="4.6" fill="#000" text-anchor="middle" stroke="#000" stroke-width="0.12">n=192</text>
<text transform="translate(54.40,206.00) scale(0.9,1)" font-size="4.6" fill="#111" text-anchor="middle" stroke="#111" stroke-width="0.12">7%</text>
<line x1="54.40" y1="207.00" x2="54.40" y2="214.6" stroke="#222" stroke-width="0.6" stroke-dasharray="0.9,0.5"/>
<rect x="67.40" y="232.55" width="14.6" height="39.35" fill="#1250e6"/>
<text transform="translate(74.70,251.52) scale(0.86,1)" font-size="5.0" fill="#fff" text-anchor="middle" stroke="#fff" stroke-width="0.15">66%</text>
<rect x="67.40" y="223.98" width="14.6" height="8.57" fill="#ff1212"/>
<text transform="translate(74.70,229.06) scale(0.86,1)" font-size="5.0" fill="#fff" text-anchor="middle" stroke="#fff" stroke-width="0.15">15%</text>
<rect x="67.40" y="215.23" width="14.6" height="8.74" fill="#fff500"/>
<text transform="translate(74.70,220.40) scale(0.86,1)" font-size="5.0" fill="#1a1a1a" text-anchor="middle" stroke="#1a1a1a" stroke-width="0.15">15%</text>
<rect x="67.40" y="213.60" width="14.6" height="1.63" fill="#00c41e"/>
<line x1="74.70" y1="271.9" x2="74.70" y2="273.9" stroke="#111" stroke-width="0.6"/>
<text x="74.70" y="278.90" font-size="4.6" fill="#000" text-anchor="middle" stroke="#000" stroke-width="0.12">White</text>
<text x="74.70" y="284.00" font-size="4.6" fill="#000" text-anchor="middle" stroke="#000" stroke-width="0.12">n=4504</text>
<text transform="translate(74.70,206.00) scale(0.9,1)" font-size="4.6" fill="#111" text-anchor="middle" stroke="#111" stroke-width="0.12">4%</text>
<line x1="74.70" y1="207.00" x2="74.70" y2="214.6" stroke="#222" stroke-width="0.6" stroke-dasharray="0.9,0.5"/>
<rect x="87.60" y="230.51" width="14.6" height="41.39" fill="#1250e6"/>
<text transform="translate(94.90,250.50) scale(0.86,1)" font-size="5.0" fill="#fff" text-anchor="middle" stroke="#fff" stroke-width="0.15">70%</text>
<rect x="87.60" y="224.09" width="14.6" height="6.41" fill="#ff1212"/>
<text transform="translate(94.90,228.10) scale(0.86,1)" font-size="5.0" fill="#fff" text-anchor="middle" stroke="#fff" stroke-width="0.15">12%</text>
<rect x="87.60" y="216.51" width="14.6" height="7.58" fill="#fff500"/>
<text transform="translate(94.90,221.10) scale(0.86,1)" font-size="5.0" fill="#1a1a1a" text-anchor="middle" stroke="#1a1a1a" stroke-width="0.15">13%</text>
<rect x="87.60" y="213.60" width="14.6" height="2.91" fill="#00c41e"/>
<line x1="94.90" y1="271.9" x2="94.90" y2="273.9" stroke="#111" stroke-width="0.6"/>
<text x="94.90" y="278.90" font-size="4.6" fill="#000" text-anchor="middle" stroke="#000" stroke-width="0.12">Other</text>
<text x="94.90" y="284.00" font-size="4.6" fill="#000" text-anchor="middle" stroke="#000" stroke-width="0.12">n=212</text>
<text transform="translate(94.90,206.00) scale(0.9,1)" font-size="4.6" fill="#111" text-anchor="middle" stroke="#111" stroke-width="0.12">6%</text>
<line x1="94.90" y1="207.00" x2="94.90" y2="214.6" stroke="#222" stroke-width="0.6" stroke-dasharray="0.9,0.5"/>
<text x="43.50" y="293.10" font-size="7.0" fill="#1f2f80" font-weight="bold" textLength="38.10" lengthAdjust="spacingAndGlyphs" stroke="#1f2f80" stroke-width="0.2">All Cancers</text>
<text x="49.70" y="301.50" font-size="5.6" fill="#46902f" font-weight="bold" font-style="italic" textLength="25.60" lengthAdjust="spacingAndGlyphs" stroke="#46902f" stroke-width="0.12">p &lt;0.0001</text>
<text x="49.40" y="308.00" font-size="5.6" fill="#1f2f80" font-weight="bold" textLength="27.30" lengthAdjust="spacingAndGlyphs" stroke="#1f2f80" stroke-width="0.15">q = 0.0001</text>
<line x1="136.1" y1="213.3" x2="136.1" y2="271.9" stroke="#111" stroke-width="0.9"/>
<line x1="136.1" y1="271.9" x2="221.9" y2="271.9" stroke="#111" stroke-width="0.9"/>
<line x1="133.9" y1="213.30" x2="136.1" y2="213.30" stroke="#111" stroke-width="0.8"/>
<text transform="translate(133.20,214.90) scale(0.9,1)" font-size="4.6" fill="#000" text-anchor="end" stroke="#000" stroke-width="0.15">100</text>
<line x1="133.9" y1="242.60" x2="136.1" y2="242.60" stroke="#111" stroke-width="0.8"/>
<text transform="translate(133.20,244.20) scale(0.9,1)" font-size="4.6" fill="#000" text-anchor="end" stroke="#000" stroke-width="0.15">50</text>
<line x1="133.9" y1="271.90" x2="136.1" y2="271.90" stroke="#111" stroke-width="0.8"/>
<text transform="translate(133.20,273.50) scale(0.9,1)" font-size="4.6" fill="#000" text-anchor="end" stroke="#000" stroke-width="0.15">0</text>
<rect x="142.10" y="236.74" width="14.5" height="35.16" fill="#1250e6"/>
<text transform="translate(149.35,255.12) scale(0.86,1)" font-size="5.0" fill="#fff" text-anchor="middle" stroke="#fff" stroke-width="0.15">60%</text>
<rect x="142.10" y="229.12" width="14.5" height="7.62" fill="#ff1212"/>
<text transform="translate(149.35,233.73) scale(0.86,1)" font-size="5.0" fill="#fff" text-anchor="middle" stroke="#fff" stroke-width="0.15">13%</text>
<rect x="142.10" y="218.57" width="14.5" height="10.55" fill="#fff500"/>
<text transform="translate(149.35,224.65) scale(0.86,1)" font-size="5.0" fill="#1a1a1a" text-anchor="middle" stroke="#1a1a1a" stroke-width="0.15">18%</text>
<rect x="142.10" y="213.30" width="14.5" height="5.27" fill="#00c41e"/>
<line x1="149.35" y1="271.9" x2="149.35" y2="273.9" stroke="#111" stroke-width="0.6"/>
<text x="149.35" y="278.90" font-size="4.6" fill="#000" text-anchor="middle" stroke="#000" stroke-width="0.12">Asian</text>
<text x="149.35" y="284.00" font-size="4.6" fill="#000" text-anchor="middle" stroke="#000" stroke-width="0.12">n=92</text>
<text transform="translate(149.35,205.70) scale(0.9,1)" font-size="4.6" fill="#111" text-anchor="middle" stroke="#111" stroke-width="0.12">9%</text>
<line x1="149.35" y1="206.70" x2="149.35" y2="214.3" stroke="#222" stroke-width="0.6" stroke-dasharray="0.9,0.5"/>
<rect x="162.40" y="251.39" width="14.5" height="20.51" fill="#1250e6"/>
<text transform="translate(169.65,262.44) scale(0.86,1)" font-size="5.0" fill="#fff" text-anchor="middle" stroke="#fff" stroke-width="0.15">35%</text>
<rect x="162.40" y="235.57" width="14.5" height="15.82" fill="#ff1212"/>
<text transform="translate(169.65,244.28) scale(0.86,1)" font-size="5.0" fill="#fff" text-anchor="middle" stroke="#fff" stroke-width="0.15">27%</text>
<rect x="162.40" y="222.09" width="14.5" height="13.48" fill="#fff500"/>
<text transform="translate(169.65,229.63) scale(0.86,1)" font-size="5.0" fill="#1a1a1a" text-anchor="middle" stroke="#1a1a1a" stroke-width="0.15">23%</text>
<rect x="162.40" y="213.30" width="14.5" height="8.79" fill="#00c41e"/>
<text transform="translate(169.65,218.50) scale(0.86,1)" font-size="5.0" fill="#1a1a1a" text-anchor="middle" stroke="#1a1a1a" stroke-width="0.15">9%</text>
<line x1="169.65" y1="271.9" x2="169.65" y2="273.9" stroke="#111" stroke-width="0.6"/>
<text x="169.65" y="278.90" font-size="4.6" fill="#000" text-anchor="middle" stroke="#000" stroke-width="0.12">Black</text>
<text x="169.65" y="284.00" font-size="4.6" fill="#000" text-anchor="middle" stroke="#000" stroke-width="0.12">n=60</text>
<rect x="182.70" y="235.57" width="14.5" height="36.33" fill="#1250e6"/>
<text transform="translate(189.95,254.53) scale(0.86,1)" font-size="5.0" fill="#fff" text-anchor="middle" stroke="#fff" stroke-width="0.15">62%</text>
<rect x="182.70" y="225.61" width="14.5" height="9.96" fill="#ff1212"/>
<text transform="translate(189.95,231.39) scale(0.86,1)" font-size="5.0" fill="#fff" text-anchor="middle" stroke="#fff" stroke-width="0.15">17%</text>
<rect x="182.70" y="217.40" width="14.5" height="8.20" fill="#fff500"/>
<text transform="translate(189.95,222.30) scale(0.86,1)" font-size="5.0" fill="#1a1a1a" text-anchor="middle" stroke="#1a1a1a" stroke-width="0.15">14%</text>
<rect x="182.70" y="213.30" width="14.5" height="4.10" fill="#00c41e"/>
<line x1="189.95" y1="271.9" x2="189.95" y2="273.9" stroke="#111" stroke-width="0.6"/>
<text x="189.95" y="278.90" font-size="4.6" fill="#000" text-anchor="middle" stroke="#000" stroke-width="0.12">White</text>
<text x="189.95" y="284.00" font-size="4.6" fill="#000" text-anchor="middle" stroke="#000" stroke-width="0.12">n=1454</text>
<text transform="translate(189.95,205.70) scale(0.9,1)" font-size="4.6" fill="#111" text-anchor="middle" stroke="#111" stroke-width="0.12">7%</text>
<line x1="189.95" y1="206.70" x2="189.95" y2="214.3" stroke="#222" stroke-width="0.6" stroke-dasharray="0.9,0.5"/>
<rect x="202.90" y="230.88" width="14.5" height="41.02" fill="#1250e6"/>
<text transform="translate(210.15,252.19) scale(0.86,1)" font-size="5.0" fill="#fff" text-anchor="middle" stroke="#fff" stroke-width="0.15">70%</text>
<rect x="202.90" y="226.19" width="14.5" height="4.69" fill="#ff1212"/>
<text transform="translate(210.15,229.34) scale(0.86,1)" font-size="5.0" fill="#fff" text-anchor="middle" stroke="#fff" stroke-width="0.15">8%</text>
<rect x="202.90" y="218.57" width="14.5" height="7.62" fill="#fff500"/>
<text transform="translate(210.15,223.18) scale(0.86,1)" font-size="5.0" fill="#1a1a1a" text-anchor="middle" stroke="#1a1a1a" stroke-width="0.15">13%</text>
<rect x="202.90" y="213.30" width="14.5" height="5.27" fill="#00c41e"/>
<line x1="210.15" y1="271.9" x2="210.15" y2="273.9" stroke="#111" stroke-width="0.6"/>
<text x="210.15" y="278.90" font-size="4.6" fill="#000" text-anchor="middle" stroke="#000" stroke-width="0.12">Other</text>
<text x="210.15" y="284.00" font-size="4.6" fill="#000" text-anchor="middle" stroke="#000" stroke-width="0.12">n=99</text>
<text transform="translate(210.15,205.70) scale(0.9,1)" font-size="4.6" fill="#111" text-anchor="middle" stroke="#111" stroke-width="0.12">9%</text>
<line x1="210.15" y1="206.70" x2="210.15" y2="214.3" stroke="#222" stroke-width="0.6" stroke-dasharray="0.9,0.5"/>
<text x="156.30" y="293.10" font-size="7.0" fill="#1f2f80" font-weight="bold" textLength="47.70" lengthAdjust="spacingAndGlyphs" stroke="#1f2f80" stroke-width="0.2">Other Cancers</text>
<text x="166.80" y="300.80" font-size="5.6" fill="#46902f" font-weight="bold" font-style="italic" textLength="26.00" lengthAdjust="spacingAndGlyphs" stroke="#46902f" stroke-width="0.12">p &lt;0.0001</text>
<text x="166.80" y="307.60" font-size="5.6" fill="#1f2f80" font-weight="bold" textLength="27.40" lengthAdjust="spacingAndGlyphs" stroke="#1f2f80" stroke-width="0.15">q = 0.0001</text>
<line x1="236.8" y1="210.6" x2="236.8" y2="271.2" stroke="#111" stroke-width="0.9"/>
<line x1="236.8" y1="271.2" x2="325.8" y2="271.2" stroke="#111" stroke-width="0.9"/>
<line x1="234.60000000000002" y1="210.60" x2="236.8" y2="210.60" stroke="#111" stroke-width="0.8"/>
<text transform="translate(233.90,212.20) scale(0.9,1)" font-size="4.6" fill="#000" text-anchor="end" stroke="#000" stroke-width="0.15">100</text>
<line x1="234.60000000000002" y1="240.90" x2="236.8" y2="240.90" stroke="#111" stroke-width="0.8"/>
<text transform="translate(233.90,242.50) scale(0.9,1)" font-size="4.6" fill="#000" text-anchor="end" stroke="#000" stroke-width="0.15">50</text>
<line x1="234.60000000000002" y1="271.20" x2="236.8" y2="271.20" stroke="#111" stroke-width="0.8"/>
<text transform="translate(233.90,272.80) scale(0.9,1)" font-size="4.6" fill="#000" text-anchor="end" stroke="#000" stroke-width="0.15">0</text>
<rect x="243.00" y="230.60" width="15" height="40.60" fill="#1250e6"/>
<text transform="translate(250.50,251.70) scale(0.86,1)" font-size="5.0" fill="#fff" text-anchor="middle" stroke="#fff" stroke-width="0.15">67%</text>
<rect x="243.00" y="220.30" width="15" height="10.30" fill="#fff500"/>
<text transform="translate(250.50,226.25) scale(0.86,1)" font-size="5.0" fill="#1a1a1a" text-anchor="middle" stroke="#1a1a1a" stroke-width="0.15">16%</text>
<rect x="243.00" y="210.60" width="15" height="9.70" fill="#00c41e"/>
<text transform="translate(250.50,216.25) scale(0.86,1)" font-size="5.0" fill="#1a1a1a" text-anchor="middle" stroke="#1a1a1a" stroke-width="0.15">17%</text>
<line x1="250.50" y1="271.2" x2="250.50" y2="273.2" stroke="#111" stroke-width="0.6"/>
<text x="250.50" y="278.20" font-size="4.6" fill="#000" text-anchor="middle" stroke="#000" stroke-width="0.12">Asian</text>
<text x="250.50" y="283.30" font-size="4.6" fill="#000" text-anchor="middle" stroke="#000" stroke-width="0.12">n=12</text>
<rect x="264.00" y="219.08" width="15" height="52.12" fill="#1250e6"/>
<text transform="translate(271.50,245.94) scale(0.86,1)" font-size="5.0" fill="#fff" text-anchor="middle" stroke="#fff" stroke-width="0.15">86%</text>
<rect x="264.00" y="210.60" width="15" height="8.48" fill="#ff1212"/>
<text transform="translate(271.50,215.64) scale(0.86,1)" font-size="5.0" fill="#fff" text-anchor="middle" stroke="#fff" stroke-width="0.15">14%</text>
<line x1="271.50" y1="271.2" x2="271.50" y2="273.2" stroke="#111" stroke-width="0.6"/>
<text x="271.50" y="278.20" font-size="4.6" fill="#000" text-anchor="middle" stroke="#000" stroke-width="0.12">Black</text>
<text x="271.50" y="283.30" font-size="4.6" fill="#000" text-anchor="middle" stroke="#000" stroke-width="0.12">n=7</text>
<rect x="284.90" y="225.75" width="15" height="45.45" fill="#1250e6"/>
<text transform="translate(292.40,249.28) scale(0.86,1)" font-size="5.0" fill="#fff" text-anchor="middle" stroke="#fff" stroke-width="0.15">75%</text>
<rect x="284.90" y="218.48" width="15" height="7.27" fill="#ff1212"/>
<text transform="translate(292.40,222.91) scale(0.86,1)" font-size="5.0" fill="#fff" text-anchor="middle" stroke="#fff" stroke-width="0.15">12%</text>
<rect x="284.90" y="211.81" width="15" height="6.67" fill="#fff500"/>
<text transform="translate(292.40,215.95) scale(0.86,1)" font-size="5.0" fill="#1a1a1a" text-anchor="middle" stroke="#1a1a1a" stroke-width="0.15">11%</text>
<rect x="284.90" y="210.60" width="15" height="1.21" fill="#00c41e"/>
<line x1="292.40" y1="271.2" x2="292.40" y2="273.2" stroke="#111" stroke-width="0.6"/>
<text x="292.40" y="278.20" font-size="4.6" fill="#000" text-anchor="middle" stroke="#000" stroke-width="0.12">White</text>
<text x="292.40" y="283.30" font-size="4.6" fill="#000" text-anchor="middle" stroke="#000" stroke-width="0.12">n=1539</text>
<text transform="translate(292.40,203.00) scale(0.9,1)" font-size="4.6" fill="#111" text-anchor="middle" stroke="#111" stroke-width="0.12">3%</text>
<line x1="292.40" y1="204.00" x2="292.40" y2="211.6" stroke="#222" stroke-width="0.6" stroke-dasharray="0.9,0.5"/>
<rect x="306.30" y="225.14" width="15" height="46.06" fill="#1250e6"/>
<text transform="translate(313.80,248.97) scale(0.86,1)" font-size="5.0" fill="#fff" text-anchor="middle" stroke="#fff" stroke-width="0.15">76%</text>
<rect x="306.30" y="217.87" width="15" height="7.27" fill="#ff1212"/>
<text transform="translate(313.80,222.31) scale(0.86,1)" font-size="5.0" fill="#fff" text-anchor="middle" stroke="#fff" stroke-width="0.15">12%</text>
<rect x="306.30" y="210.60" width="15" height="7.27" fill="#fff500"/>
<text transform="translate(313.80,215.04) scale(0.86,1)" font-size="5.0" fill="#1a1a1a" text-anchor="middle" stroke="#1a1a1a" stroke-width="0.15">12%</text>
<line x1="313.80" y1="271.2" x2="313.80" y2="273.2" stroke="#111" stroke-width="0.6"/>
<text x="313.80" y="278.20" font-size="4.6" fill="#000" text-anchor="middle" stroke="#000" stroke-width="0.12">Other</text>
<text x="313.80" y="283.30" font-size="4.6" fill="#000" text-anchor="middle" stroke="#000" stroke-width="0.12">n=33</text>
<text x="263.40" y="293.20" font-size="7.0" fill="#1f2f80" font-weight="bold" textLength="34.80" lengthAdjust="spacingAndGlyphs" stroke="#1f2f80" stroke-width="0.2">Melanoma</text>
<text x="267.90" y="301.60" font-size="5.6" fill="#46902f" font-weight="bold" font-style="italic" textLength="26.70" lengthAdjust="spacingAndGlyphs" stroke="#46902f" stroke-width="0.12">p &lt;0.0001</text>
<text x="267.90" y="308.60" font-size="5.6" fill="#1f2f80" font-weight="bold" textLength="28.10" lengthAdjust="spacingAndGlyphs" stroke="#1f2f80" stroke-width="0.15">q = 0.0001</text>
<line x1="345.8" y1="210.5" x2="345.8" y2="271.4" stroke="#111" stroke-width="0.9"/>
<line x1="345.8" y1="271.4" x2="434.8" y2="271.4" stroke="#111" stroke-width="0.9"/>
<line x1="343.6" y1="210.50" x2="345.8" y2="210.50" stroke="#111" stroke-width="0.8"/>
<text transform="translate(342.90,212.10) scale(0.9,1)" font-size="4.6" fill="#000" text-anchor="end" stroke="#000" stroke-width="0.15">100</text>
<line x1="343.6" y1="240.95" x2="345.8" y2="240.95" stroke="#111" stroke-width="0.8"/>
<text transform="translate(342.90,242.55) scale(0.9,1)" font-size="4.6" fill="#000" text-anchor="end" stroke="#000" stroke-width="0.15">50</text>
<line x1="343.6" y1="271.40" x2="345.8" y2="271.40" stroke="#111" stroke-width="0.8"/>
<text transform="translate(342.90,273.00) scale(0.9,1)" font-size="4.6" fill="#000" text-anchor="end" stroke="#000" stroke-width="0.15">0</text>
<rect x="352.30" y="230.60" width="15" height="40.80" fill="#1250e6"/>
<text transform="translate(359.80,249.00) scale(0.86,1)" font-size="5.0" fill="#fff" text-anchor="middle" stroke="#fff" stroke-width="0.15">67%</text>
<rect x="352.30" y="225.72" width="15" height="4.87" fill="#ff1212"/>
<text transform="translate(359.80,228.96) scale(0.86,1)" font-size="5.0" fill="#fff" text-anchor="middle" stroke="#fff" stroke-width="0.15">8%</text>
<rect x="352.30" y="212.94" width="15" height="12.79" fill="#fff500"/>
<text transform="translate(359.80,220.13) scale(0.86,1)" font-size="5.0" fill="#1a1a1a" text-anchor="middle" stroke="#1a1a1a" stroke-width="0.15">21%</text>
<rect x="352.30" y="210.50" width="15" height="2.44" fill="#00c41e"/>
<line x1="359.80" y1="271.4" x2="359.80" y2="273.4" stroke="#111" stroke-width="0.6"/>
<text x="359.80" y="278.40" font-size="4.6" fill="#000" text-anchor="middle" stroke="#000" stroke-width="0.12">Asian</text>
<text x="359.80" y="283.50" font-size="4.6" fill="#000" text-anchor="middle" stroke="#000" stroke-width="0.12">n=39</text>
<text transform="translate(359.80,205.80) scale(0.9,1)" font-size="4.6" fill="#111" text-anchor="middle" stroke="#111" stroke-width="0.12">5%</text>
<line x1="359.80" y1="206.80" x2="359.80" y2="211.5" stroke="#222" stroke-width="0.6" stroke-dasharray="0.9,0.5"/>
<rect x="373.00" y="233.64" width="15" height="37.76" fill="#1250e6"/>
<text transform="translate(380.50,250.52) scale(0.86,1)" font-size="5.0" fill="#fff" text-anchor="middle" stroke="#fff" stroke-width="0.15">62%</text>
<rect x="373.00" y="223.29" width="15" height="10.35" fill="#ff1212"/>
<text transform="translate(380.50,229.27) scale(0.86,1)" font-size="5.0" fill="#fff" text-anchor="middle" stroke="#fff" stroke-width="0.15">17%</text>
<rect x="373.00" y="213.54" width="15" height="9.74" fill="#fff500"/>
<text transform="translate(380.50,219.22) scale(0.86,1)" font-size="5.0" fill="#1a1a1a" text-anchor="middle" stroke="#1a1a1a" stroke-width="0.15">16%</text>
<rect x="373.00" y="210.50" width="15" height="3.04" fill="#00c41e"/>
<line x1="380.50" y1="271.4" x2="380.50" y2="273.4" stroke="#111" stroke-width="0.6"/>
<text x="380.50" y="278.40" font-size="4.6" fill="#000" text-anchor="middle" stroke="#000" stroke-width="0.12">Black</text>
<text x="380.50" y="283.50" font-size="4.6" fill="#000" text-anchor="middle" stroke="#000" stroke-width="0.12">n=54</text>
<text transform="translate(380.50,205.80) scale(0.9,1)" font-size="4.6" fill="#111" text-anchor="middle" stroke="#111" stroke-width="0.12">5%</text>
<line x1="380.50" y1="206.80" x2="380.50" y2="211.5" stroke="#222" stroke-width="0.6" stroke-dasharray="0.9,0.5"/>
<rect x="393.90" y="222.07" width="15" height="49.33" fill="#1250e6"/>
<text transform="translate(401.40,244.74) scale(0.86,1)" font-size="5.0" fill="#fff" text-anchor="middle" stroke="#fff" stroke-width="0.15">81%</text>
<rect x="393.90" y="218.42" width="15" height="3.65" fill="#ff1212"/>
<rect x="393.90" y="211.11" width="15" height="7.31" fill="#fff500"/>
<text transform="translate(401.40,215.56) scale(0.86,1)" font-size="5.0" fill="#1a1a1a" text-anchor="middle" stroke="#1a1a1a" stroke-width="0.15">12%</text>
<rect x="393.90" y="210.50" width="15" height="0.61" fill="#00c41e"/>
<line x1="401.40" y1="271.4" x2="401.40" y2="273.4" stroke="#111" stroke-width="0.6"/>
<text x="401.40" y="278.40" font-size="4.6" fill="#000" text-anchor="middle" stroke="#000" stroke-width="0.12">White</text>
<text x="401.40" y="283.50" font-size="4.6" fill="#000" text-anchor="middle" stroke="#000" stroke-width="0.12">n=913</text>
<text transform="translate(401.40,205.80) scale(0.9,1)" font-size="4.6" fill="#111" text-anchor="middle" stroke="#111" stroke-width="0.12">1%</text>
<line x1="401.40" y1="206.80" x2="401.40" y2="211.5" stroke="#222" stroke-width="0.6" stroke-dasharray="0.9,0.5"/>
<rect x="415.30" y="221.46" width="15" height="49.94" fill="#1250e6"/>
<text transform="translate(422.80,244.43) scale(0.86,1)" font-size="5.0" fill="#fff" text-anchor="middle" stroke="#fff" stroke-width="0.15">82%</text>
<rect x="415.30" y="219.03" width="15" height="2.44" fill="#ff1212"/>
<rect x="415.30" y="210.50" width="15" height="8.53" fill="#fff500"/>
<text transform="translate(422.80,215.56) scale(0.86,1)" font-size="5.0" fill="#1a1a1a" text-anchor="middle" stroke="#1a1a1a" stroke-width="0.15">14%</text>
<line x1="422.80" y1="271.4" x2="422.80" y2="273.4" stroke="#111" stroke-width="0.6"/>
<text x="422.80" y="278.40" font-size="4.6" fill="#000" text-anchor="middle" stroke="#000" stroke-width="0.12">Other</text>
<text x="422.80" y="283.50" font-size="4.6" fill="#000" text-anchor="middle" stroke="#000" stroke-width="0.12">n=51</text>
<text x="375.50" y="293.20" font-size="7.0" fill="#1f2f80" font-weight="bold" textLength="35.50" lengthAdjust="spacingAndGlyphs" stroke="#1f2f80" stroke-width="0.2">Colorectal</text>
<text x="379.70" y="301.60" font-size="5.6" fill="#46902f" font-weight="bold" font-style="italic" textLength="26.70" lengthAdjust="spacingAndGlyphs" stroke="#46902f" stroke-width="0.12">p &lt;0.0001</text>
<text x="379.70" y="308.60" font-size="5.6" fill="#1f2f80" font-weight="bold" textLength="27.70" lengthAdjust="spacingAndGlyphs" stroke="#1f2f80" stroke-width="0.15">q = 0.0001</text>
<line x1="461.4" y1="213.7" x2="461.4" y2="269.9" stroke="#111" stroke-width="0.9"/>
<line x1="461.4" y1="269.9" x2="544.0" y2="269.9" stroke="#111" stroke-width="0.9"/>
<line x1="459.2" y1="213.70" x2="461.4" y2="213.70" stroke="#111" stroke-width="0.8"/>
<text transform="translate(458.50,215.30) scale(0.9,1)" font-size="4.6" fill="#000" text-anchor="end" stroke="#000" stroke-width="0.15">100</text>
<line x1="459.2" y1="241.80" x2="461.4" y2="241.80" stroke="#111" stroke-width="0.8"/>
<text transform="translate(458.50,243.40) scale(0.9,1)" font-size="4.6" fill="#000" text-anchor="end" stroke="#000" stroke-width="0.15">50</text>
<line x1="459.2" y1="269.90" x2="461.4" y2="269.90" stroke="#111" stroke-width="0.8"/>
<text transform="translate(458.50,271.50) scale(0.9,1)" font-size="4.6" fill="#000" text-anchor="end" stroke="#000" stroke-width="0.15">0</text>
<rect x="467.20" y="249.67" width="14.2" height="20.23" fill="#1250e6"/>
<text transform="translate(474.30,261.58) scale(0.86,1)" font-size="5.0" fill="#fff" text-anchor="middle" stroke="#fff" stroke-width="0.15">36%</text>
<rect x="467.20" y="233.37" width="14.2" height="16.30" fill="#ff1212"/>
<text transform="translate(474.30,243.32) scale(0.86,1)" font-size="5.0" fill="#fff" text-anchor="middle" stroke="#fff" stroke-width="0.15">29%</text>
<rect x="467.20" y="224.38" width="14.2" height="8.99" fill="#fff500"/>
<text transform="translate(474.30,230.67) scale(0.86,1)" font-size="5.0" fill="#1a1a1a" text-anchor="middle" stroke="#1a1a1a" stroke-width="0.15">16%</text>
<rect x="467.20" y="213.70" width="14.2" height="10.68" fill="#00c41e"/>
<text transform="translate(474.30,220.84) scale(0.86,1)" font-size="5.0" fill="#1a1a1a" text-anchor="middle" stroke="#1a1a1a" stroke-width="0.15">19%</text>
<line x1="474.30" y1="269.9" x2="474.30" y2="271.9" stroke="#111" stroke-width="0.6"/>
<text x="474.30" y="276.90" font-size="4.6" fill="#000" text-anchor="middle" stroke="#000" stroke-width="0.12">Asian</text>
<text x="474.30" y="282.00" font-size="4.6" fill="#000" text-anchor="middle" stroke="#000" stroke-width="0.12">n=31</text>
<rect x="487.00" y="248.54" width="14.2" height="21.36" fill="#1250e6"/>
<text transform="translate(494.10,261.02) scale(0.86,1)" font-size="5.0" fill="#fff" text-anchor="middle" stroke="#fff" stroke-width="0.15">38%</text>
<rect x="487.00" y="232.81" width="14.2" height="15.74" fill="#ff1212"/>
<text transform="translate(494.10,242.48) scale(0.86,1)" font-size="5.0" fill="#fff" text-anchor="middle" stroke="#fff" stroke-width="0.15">27%</text>
<rect x="487.00" y="214.82" width="14.2" height="17.98" fill="#fff500"/>
<text transform="translate(494.10,225.62) scale(0.86,1)" font-size="5.0" fill="#1a1a1a" text-anchor="middle" stroke="#1a1a1a" stroke-width="0.15">32%</text>
<rect x="487.00" y="213.70" width="14.2" height="1.12" fill="#00c41e"/>
<line x1="494.10" y1="269.9" x2="494.10" y2="271.9" stroke="#111" stroke-width="0.6"/>
<text x="494.10" y="276.90" font-size="4.6" fill="#000" text-anchor="middle" stroke="#000" stroke-width="0.12">Black</text>
<text x="494.10" y="282.00" font-size="4.6" fill="#000" text-anchor="middle" stroke="#000" stroke-width="0.12">n=56</text>
<text transform="translate(494.10,206.10) scale(0.9,1)" font-size="4.6" fill="#111" text-anchor="middle" stroke="#111" stroke-width="0.12">4%</text>
<line x1="494.10" y1="207.10" x2="494.10" y2="214.7" stroke="#222" stroke-width="0.6" stroke-dasharray="0.9,0.5"/>
<rect x="506.40" y="251.92" width="14.2" height="17.98" fill="#1250e6"/>
<text transform="translate(513.50,262.71) scale(0.86,1)" font-size="5.0" fill="#fff" text-anchor="middle" stroke="#fff" stroke-width="0.15">32%</text>
<rect x="506.40" y="232.25" width="14.2" height="19.67" fill="#ff1212"/>
<text transform="translate(513.50,243.88) scale(0.86,1)" font-size="5.0" fill="#fff" text-anchor="middle" stroke="#fff" stroke-width="0.15">35%</text>
<rect x="506.40" y="214.82" width="14.2" height="17.42" fill="#fff500"/>
<text transform="translate(513.50,225.34) scale(0.86,1)" font-size="5.0" fill="#1a1a1a" text-anchor="middle" stroke="#1a1a1a" stroke-width="0.15">30%</text>
<rect x="506.40" y="213.70" width="14.2" height="1.12" fill="#00c41e"/>
<line x1="513.50" y1="269.9" x2="513.50" y2="271.9" stroke="#111" stroke-width="0.6"/>
<text x="513.50" y="276.90" font-size="4.6" fill="#000" text-anchor="middle" stroke="#000" stroke-width="0.12">White</text>
<text x="513.50" y="282.00" font-size="4.6" fill="#000" text-anchor="middle" stroke="#000" stroke-width="0.12">n=698</text>
<text transform="translate(513.50,206.10) scale(0.9,1)" font-size="4.6" fill="#111" text-anchor="middle" stroke="#111" stroke-width="0.12">3%</text>
<line x1="513.50" y1="207.10" x2="513.50" y2="214.7" stroke="#222" stroke-width="0.6" stroke-dasharray="0.9,0.5"/>
<rect x="525.30" y="246.86" width="14.2" height="23.04" fill="#1250e6"/>
<text transform="translate(532.40,260.18) scale(0.86,1)" font-size="5.0" fill="#fff" text-anchor="middle" stroke="#fff" stroke-width="0.15">41%</text>
<rect x="525.30" y="225.50" width="14.2" height="21.36" fill="#ff1212"/>
<text transform="translate(532.40,237.98) scale(0.86,1)" font-size="5.0" fill="#fff" text-anchor="middle" stroke="#fff" stroke-width="0.15">38%</text>
<rect x="525.30" y="219.32" width="14.2" height="6.18" fill="#fff500"/>
<text transform="translate(532.40,224.21) scale(0.86,1)" font-size="5.0" fill="#1a1a1a" text-anchor="middle" stroke="#1a1a1a" stroke-width="0.15">10%</text>
<rect x="525.30" y="213.70" width="14.2" height="5.62" fill="#00c41e"/>
<text transform="translate(532.40,218.31) scale(0.86,1)" font-size="5.0" fill="#1a1a1a" text-anchor="middle" stroke="#1a1a1a" stroke-width="0.15">10%</text>
<line x1="532.40" y1="269.9" x2="532.40" y2="271.9" stroke="#111" stroke-width="0.6"/>
<text x="532.40" y="276.90" font-size="4.6" fill="#000" text-anchor="middle" stroke="#000" stroke-width="0.12">Other</text>
<text x="532.40" y="282.00" font-size="4.6" fill="#000" text-anchor="middle" stroke="#000" stroke-width="0.12">n=29</text>
<text x="494.20" y="290.30" font-size="7.0" fill="#1f2f80" font-weight="bold" textLength="22.80" lengthAdjust="spacingAndGlyphs" stroke="#1f2f80" stroke-width="0.2">NSCLC</text>
<text x="494.80" y="300.60" font-size="5.6" fill="#46902f" font-weight="bold" font-style="italic" textLength="22.70" lengthAdjust="spacingAndGlyphs" stroke="#46902f" stroke-width="0.12">p &lt;0.0001</text>
<text x="494.80" y="306.10" font-size="5.6" fill="#1f2f80" font-weight="bold" textLength="24.00" lengthAdjust="spacingAndGlyphs" stroke="#1f2f80" stroke-width="0.15">q = 0.0001</text>
<polyline points="408.2,194.9 411.1,194.9 411.1,220.7 409.2,220.7" fill="none" stroke="#333" stroke-width="0.5"/>
<text transform="translate(401.80,196.50) scale(0.9,1)" font-size="4.6" fill="#111" text-anchor="middle" stroke="#111" stroke-width="0.12">6%</text>
<polyline points="427.4,204.9 432.2,204.9 432.2,220.7 430.3,220.7" fill="none" stroke="#333" stroke-width="0.5"/>
<text transform="translate(422.70,206.50) scale(0.9,1)" font-size="4.6" fill="#111" text-anchor="middle" stroke="#111" stroke-width="0.12">4%</text></svg></body></html>
